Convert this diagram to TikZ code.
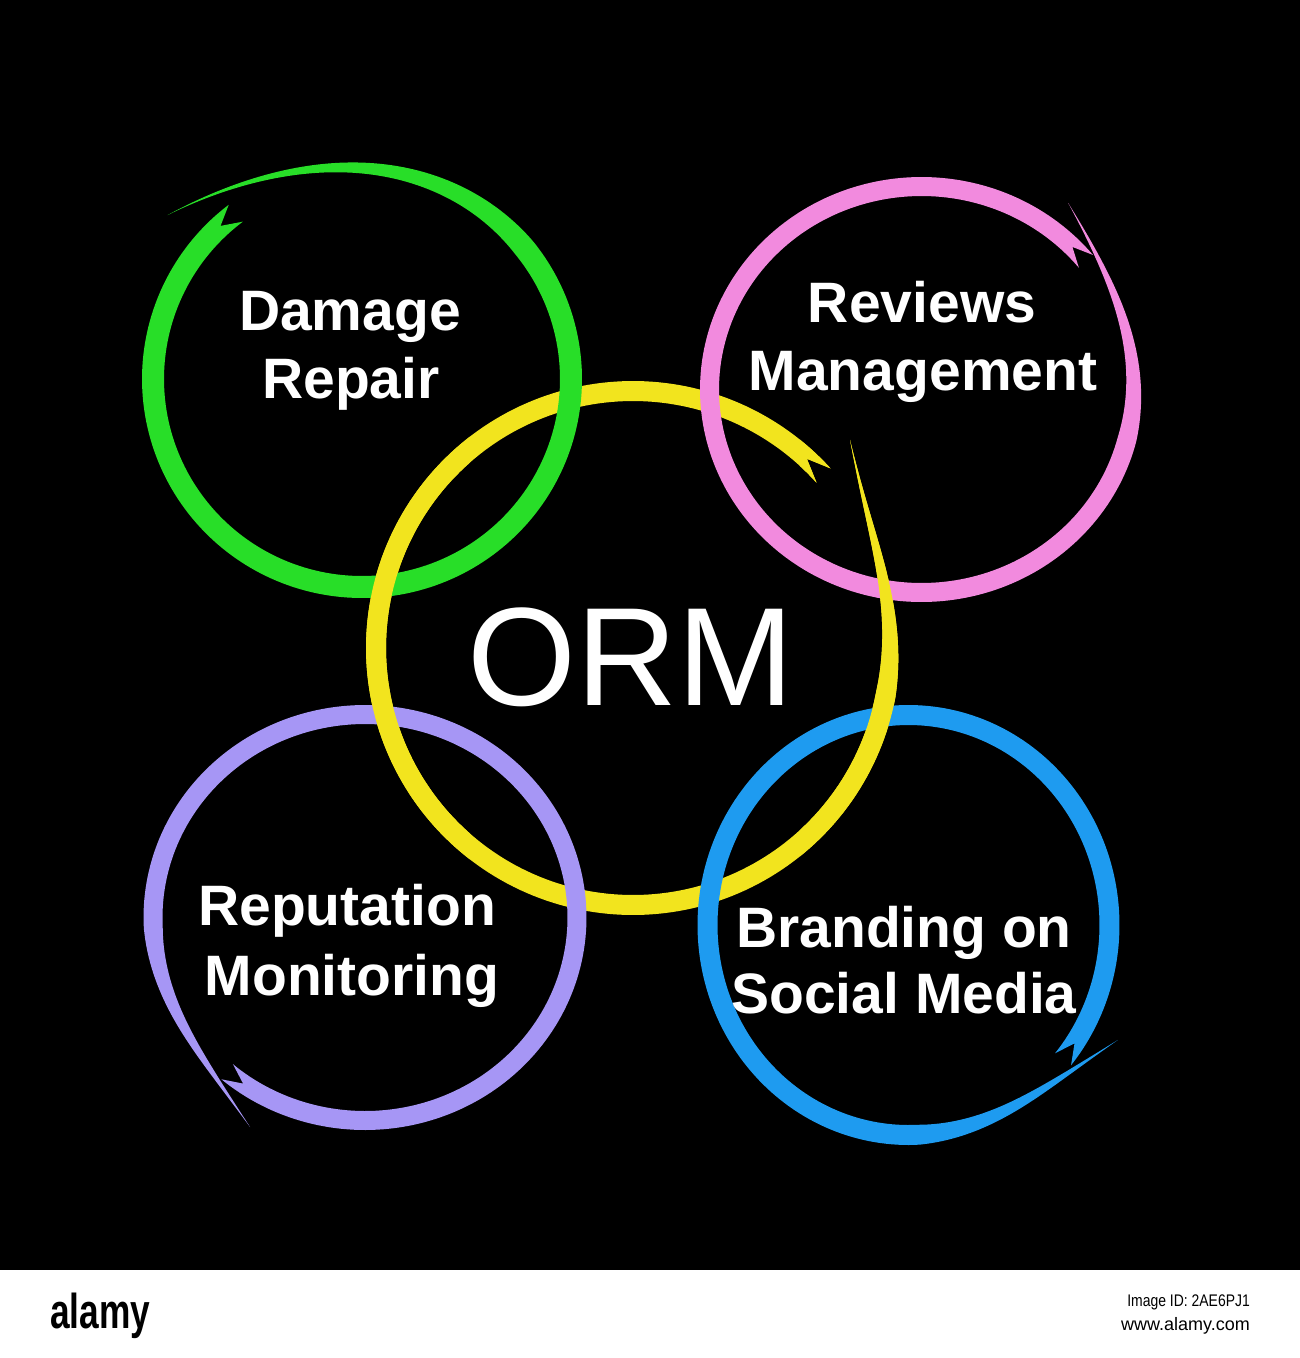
\documentclass[tikz,border=0pt]{standalone}
\usepackage{fontspec}
\setmainfont{Liberation Sans}
\newfontfamily\logofont{Liberation Sans}[FakeStretch=0.72]
\newfontfamily\idfont{Liberation Sans}[FakeStretch=0.83]
\definecolor{ringgreen}{RGB}{40,222,40}
\definecolor{ringpink}{RGB}{242,138,222}
\definecolor{ringyellow}{RGB}{242,228,30}
\definecolor{ringpurple}{RGB}{166,150,245}
\definecolor{ringblue}{RGB}{30,155,240}
% #1 cx  #2 cy  #3 rx  #4 ry  #5 thin-end angle  #6 notched-end angle  #7 width  #8 taper fraction  #9 outward flare
\newcommand\brushring[9]{%
 \fill[declare function={%
   bu(\s)=min(1,\s/#8);
   bq(\s)=1-bu(\s);
   bth(\s)=(#5)+\s*((#6)-(#5));
   bf(\s)=1+(#9)*bq(\s)*bq(\s)*bq(\s)*bq(\s);
   bw(\s)=(#7)*bu(\s);
 }]
 plot[domain=0:1,samples=240,variable=\s]
   ({#1+(bf(\s)*(#3)+bw(\s)/2)*cos(bth(\s))},{#2-(bf(\s)*(#4)+bw(\s)/2)*sin(bth(\s))})
 -- ({#1+(#3)*cos(bth(0.985))},{#2-(#4)*sin(bth(0.985))})
 -- plot[domain=1:0,samples=240,variable=\s]
   ({#1+(bf(\s)*(#3)-bw(\s)/2)*cos(bth(\s))},{#2-(bf(\s)*(#4)-bw(\s)/2)*sin(bth(\s))})
 -- cycle;}
\newcommand\yellowring{\brushring{633}{648}{257}{257}{43.8}{-318}{20}{0.15}{0.17}}
\begin{document}
\begin{tikzpicture}[x=1pt,y=-1pt,
  lbl/.style={text=white,font=\bfseries\fontsize{57}{68}\selectfont,inner sep=0pt,anchor=base},
  bigl/.style={text=white,font=\fontsize{140}{140}\selectfont,inner sep=0pt,anchor=base}]
\useasboundingbox (0,0) rectangle (1300,1358);
\fill[black] (0,0) rectangle (1300,1270);
\fill[white] (0,1270) rectangle (1300,1358);
% central ring
\begin{scope}[fill=ringyellow]\yellowring\end{scope}
% outer rings
\begin{scope}[fill=ringgreen]\brushring{362}{379}{209}{208}{499.8}{127}{22}{0.27}{0.22}\end{scope}
\begin{scope}[fill=ringpink]\brushring{921.5}{389.5}{212}{203}{53}{-321}{19}{0.18}{0.15}\end{scope}
\begin{scope}[fill=ringpurple]\brushring{365}{917.5}{212}{203}{242.3}{-130.7}{19}{0.16}{0.166}\end{scope}
\begin{scope}[fill=ringblue]\brushring{908.5}{925}{201}{210}{-27.7}{-399.9}{20}{0.16}{0.177}\end{scope}
% yellow passes over on its left and right sides
\begin{scope}
\clip (0,0) rectangle (470,1270) (800,0) rectangle (1300,1270);
\begin{scope}[fill=ringyellow]\yellowring\end{scope}
\end{scope}
% labels
\node[lbl] (dmg1) at (350,330) {Damage};
\node[lbl] (dmg2) at (351,398) {Repair};
\node[lbl] (rev1) at (922,322) {Reviews};
\node[lbl] (rev2) at (923,390) {Management};
\node[lbl] (rep1) at (347,925) {Reputation};
\node[lbl] (rep2) at (352,995) {Monitoring};
\node[lbl] (brd1) at (904,947) {Branding on};
\node[lbl] (brd2) at (904,1013) {Social Media};
\node[bigl] (orm) at (631,705) {ORM};
% bottom strip
\node[anchor=base west,inner sep=0pt,font=\logofont\bfseries\fontsize{49}{49}\selectfont] (logo) at (50,1328) {alamy};
\node[anchor=base east,inner sep=0pt,font=\idfont\fontsize{16.8}{17}\selectfont] (imgid) at (1250,1306) {Image ID: 2AE6PJ1};
\node[anchor=base east,inner sep=0pt,font=\fontsize{18}{18}\selectfont] (www) at (1250,1330) {www.alamy.com};
\end{tikzpicture}
\end{document}
